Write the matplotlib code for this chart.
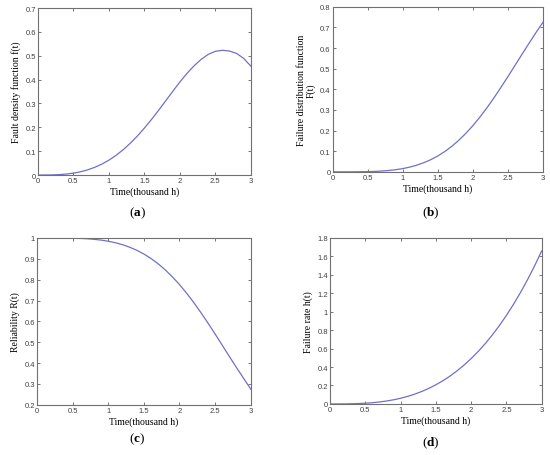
import numpy as np
import matplotlib
matplotlib.use('Agg')
import matplotlib.pyplot as plt

# Data (time in thousand hours)
t = [0.0, 0.1, 0.2, 0.3, 0.4, 0.5, 0.6, 0.7, 0.8, 0.9, 1.0,
     1.1, 1.2, 1.3, 1.4, 1.5, 1.6, 1.7, 1.8, 1.9, 2.0,
     2.1, 2.2, 2.3, 2.4, 2.5, 2.6, 2.7, 2.8, 2.9, 3.0]

f_t = [0, 0.0001, 0.0005, 0.0017, 0.0041, 0.0079, 0.0136, 0.0216, 0.0322, 0.0456, 0.0622,
       0.0823, 0.1058, 0.1328, 0.1632, 0.1968, 0.2330, 0.2712, 0.3110, 0.3510, 0.3900,
       0.4260, 0.4580, 0.4850, 0.5060, 0.5190, 0.5230, 0.5200, 0.5100, 0.4890, 0.4570]

F_t = [0, 0, 0, 0.0001, 0.0004, 0.0010, 0.0020, 0.0038, 0.0065, 0.0103, 0.0157,
       0.0229, 0.0322, 0.0442, 0.0589, 0.0769, 0.0984, 0.1237, 0.1530, 0.1863, 0.2235,
       0.2647, 0.3095, 0.3576, 0.4083, 0.4608, 0.5145, 0.5684, 0.6216, 0.6740, 0.7240]

t_R = t[6:]
R_t = [0.9980, 0.9962, 0.9935, 0.9897, 0.9843,
       0.9771, 0.9678, 0.9558, 0.9411, 0.9231, 0.9016, 0.8763, 0.8470, 0.8137, 0.7765,
       0.7353, 0.6905, 0.6424, 0.5917, 0.5392, 0.4855, 0.4316, 0.3784, 0.3268, 0.2750]

h_t = [0, 0.0001, 0.0005, 0.0017, 0.0040, 0.0077, 0.0133, 0.0211, 0.0315, 0.0448, 0.0614,
       0.0818, 0.1062, 0.1351, 0.1687, 0.2075, 0.2517, 0.3019, 0.3586, 0.4218, 0.4918,
       0.5693, 0.6546, 0.7481, 0.8500, 0.9606, 1.0806, 1.2100, 1.3495, 1.4994, 1.6600]

xticks = [0, 0.5, 1, 1.5, 2, 2.5, 3]
xticklabels = ['0', '0.5', '1', '1.5', '2', '2.5', '3']

plt.rcParams['mathtext.fontset'] = 'custom'
plt.rcParams['mathtext.rm'] = 'Liberation Serif'
plt.rcParams['mathtext.bf'] = 'Liberation Serif:bold'

line_color = '#7070c8'
spine_color = '#707070'
serif = 'Liberation Serif'

fig = plt.figure(figsize=(5.5, 4.56), dpi=100)

panels = [
    # rect, x, y, ylim, yticks, ylabel, tag, tag position
    ([0.069, 0.614, 0.387, 0.366], t, f_t, (0, 0.7), np.arange(0, 0.71, 0.1),
     'Fault density function f(t)', 'a', (137, 213)),
    ([0.605, 0.621, 0.382, 0.362], t, F_t, (0, 0.8), np.arange(0, 0.81, 0.1),
     'Failure distribution function\nF(t)', 'b', (431, 213)),
    ([0.067, 0.110, 0.389, 0.366], t_R, R_t, (0.2, 1), np.arange(0.2, 1.01, 0.1),
     'Reliability R(t)', 'c', (137, 439)),
    ([0.600, 0.112, 0.385, 0.364], t, h_t, (0, 1.8), np.arange(0, 1.81, 0.2),
     'Failure rate h(t)', 'd', (431, 443)),
]

for rect, x, y, ylim, yticks, ylabel, tag, pos in panels:
    ax = fig.add_axes(rect)
    ax.plot(x, y, color=line_color, linewidth=0.9)
    ax.set_xlim(0, 3)
    ax.set_ylim(*ylim)
    ax.set_xticks(xticks)
    ax.set_xticklabels(xticklabels)
    ax.set_yticks(yticks)
    ax.set_yticklabels(['%g' % round(v, 1) for v in yticks])
    ax.tick_params(direction='in', length=2.5, width=0.5, colors='#404040',
                   labelsize=5.5, top=True, right=True, pad=1.5)
    for lab in ax.get_xticklabels() + ax.get_yticklabels():
        lab.set_family('Liberation Sans')
    for s in ax.spines.values():
        s.set_color(spine_color)
        s.set_linewidth(0.8)
    ax.set_xlabel('Time(thousand h)', family=serif, fontsize=7, labelpad=2)
    ax.set_ylabel(ylabel, family=serif, fontsize=7, labelpad=3, linespacing=1.1)
    fig.text(pos[0] / 550, 1 - pos[1] / 456, r'($\mathbf{%s}$)' % tag,
             ha='center', va='center', fontsize=9.5, family=serif)

fig.savefig('out.png', dpi=100)
